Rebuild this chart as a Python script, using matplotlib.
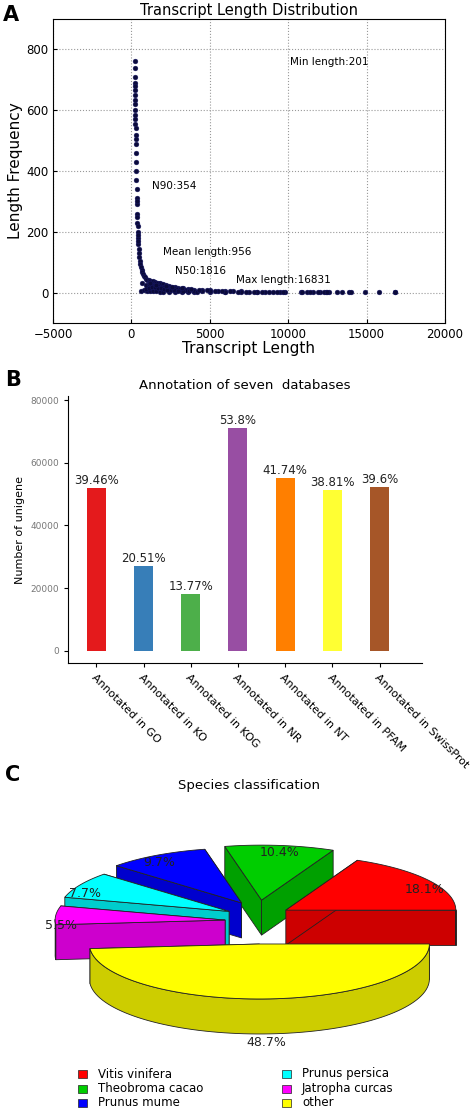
import numpy as np
import matplotlib
matplotlib.use("Agg")
import matplotlib.pyplot as plt
from matplotlib.patches import Polygon, Rectangle

# ---------------- data ----------------
# Panel A: transcript length vs frequency
lengths = [201, 205, 210, 215, 220, 225, 230, 235, 240, 245, 250, 255, 260, 265, 270, 275,
           280, 290, 300, 310, 320, 330, 340, 350, 365, 380, 400, 420, 440, 460, 480, 500,
           530, 560, 600, 650, 700, 750, 800, 850, 900, 1000, 1100, 1200, 1300, 1400, 1500,
           1600, 1700, 1800, 1900, 2000, 2200, 2400, 2600, 2800, 3000, 3300, 3600, 4000,
           4500, 5000, 5500, 6000, 6500, 7000, 7500, 8000, 8500, 9000, 9500, 9800,
           10800, 11200, 11600, 12000, 12400, 12600, 13100, 13400, 13900, 14000, 14900, 15800, 16800, 16831,
           600, 800, 1000, 1200, 1400, 1600, 1800, 2000, 2400, 2800, 3200, 3600, 4000, 5000, 6000,
           1000, 1500, 2000, 2500, 3000, 3500, 4000, 4500, 5000, 6000, 7000, 8000,
           700, 900, 1100, 1300, 1500, 1700, 1900, 2100, 2300, 2500, 2700, 2900, 3100, 3400, 3700,
           900, 1100, 1300, 1500, 1700, 1900, 2100, 2300, 2500, 2700, 3000, 3300, 3700, 4200,
           1200, 1600, 2200, 2600, 3200, 3800, 4300, 4800, 5300, 5800, 6300, 6800, 7300, 7800,
           8300, 8800, 9300, 9700, 10900, 11400, 11900, 12300, 12500, 330, 360, 390, 420, 450]
freqs = [762, 740, 710, 690, 680, 665, 650, 635, 620, 600, 585, 570, 555, 540, 520, 505,
         490, 460, 430, 400, 370, 340, 310, 290, 260, 230, 200, 180, 160, 145, 130, 118,
         105, 95, 85, 75, 68, 60, 55, 50, 45, 42, 40, 38, 36, 38, 35,
         33, 32, 30, 28, 27, 25, 22, 20, 18, 16, 14, 12, 10,
         8, 7, 6, 5, 4, 4, 3, 3, 3, 2, 2, 2,
         1, 1, 1, 1, 1, 1, 1, 1, 1, 1, 1, 1, 1, 1,
         5, 8, 6, 4, 5, 4, 3, 3, 2, 2, 2, 1, 1, 1, 1,
         20, 18, 15, 12, 10, 8, 6, 5, 4, 3, 2, 1,
         30, 25, 28, 26, 24, 22, 20, 18, 17, 15, 14, 12, 11, 9, 8,
         12, 15, 18, 20, 16, 14, 12, 10, 9, 8, 6, 5, 4, 3,
         30, 26, 22, 19, 15, 12, 9, 7, 6, 5, 4, 3, 3, 2,
         2, 2, 1, 1, 2, 2, 1, 1, 1, 300, 250, 220, 190, 170]
stat_labels = ["Min length:201", "N90:354", "Mean length:956", "N50:1816", "Max length:16831"]
stat_pos_x = [10100, 1300, 2000, 2800, 6700]
stat_pos_y = [760, 350, 135, 70, 40]

# Panel B
databases = ["Annotated in GO", "Annotated in KO", "Annotated in KOG", "Annotated in NR",
             "Annotated in NT", "Annotated in PFAM", "Annotated in SwissProt"]
unigenes = [52000, 27000, 18200, 71000, 55000, 51200, 52200]
bar_pct = ["39.46%", "20.51%", "13.77%", "53.8%", "41.74%", "38.81%", "39.6%"]
bar_colors = ["#e41a1c", "#377eb8", "#4daf4a", "#984ea3", "#ff7f00", "#ffff33", "#a65628"]

# Panel C
species = ["Vitis vinifera", "Theobroma cacao", "Prunus mume", "Prunus persica",
           "Jatropha curcas", "other"]
species_pct = [18.1, 10.4, 9.7, 7.7, 5.5, 48.7]
species_colors = ["#ff0000", "#00cd00", "#0000ff", "#00ffff", "#ff00ff", "#ffff00"]
side_colors = ["#cd0000", "#00a000", "#0000cd", "#00cdcd", "#cd00cd", "#cdcd00"]

# ---------------- figure ----------------
fig = plt.figure(figsize=(4.74, 11.09), dpi=100)
W, H = 474, 1109

def ax_rect(l, t, r, b):
    return [l / W, 1 - b / H, (r - l) / W, (b - t) / H]

# ---- Panel A ----
axA = fig.add_axes(ax_rect(53, 19, 445, 323))
axA.scatter(lengths, freqs, s=12, color="#0a0a3a", edgecolors="#1a1a6a", linewidths=0.3, zorder=3)
axA.set_xlim(-5000, 20000)
axA.set_ylim(-100, 900)
axA.set_xticks([-5000, 0, 5000, 10000, 15000, 20000])
axA.set_yticks([0, 200, 400, 600, 800])
axA.grid(True, linestyle=":", color="#999999", linewidth=0.8)
axA.tick_params(labelsize=8.5, direction="in", length=3)
axA.set_title("Transcript Length Distribution", fontsize=10.5, pad=3)
axA.set_xlabel("Transcript Length", fontsize=11, labelpad=0)
axA.set_ylabel("Length Frequency", fontsize=11, labelpad=2)
for t, x, y in zip(stat_labels, stat_pos_x, stat_pos_y):
    axA.text(x, y, t, fontsize=7.5, va="center")
fig.text(3 / W, 1 - 15 / H, "A", fontsize=15, fontweight="bold", va="center")

# ---- Panel B ----
axB = fig.add_axes(ax_rect(68, 396, 422, 663))
xpos = np.arange(len(databases))
axB.bar(xpos, unigenes, width=0.4, color=bar_colors)
for x, v, p in zip(xpos, unigenes, bar_pct):
    axB.text(x, v + 300, p, ha="center", va="bottom", fontsize=8.5, color="#222222")
axB.set_xlim(-0.6, 6.9)
axB.set_ylim(-3900, 81300)
axB.set_yticks([0, 20000, 40000, 60000, 80000])
axB.set_xticks(xpos)
axB.set_xticklabels(databases, rotation=-45, ha="left", va="top", rotation_mode="anchor", fontsize=8)
axB.tick_params(axis="y", labelsize=6.5, labelcolor="#777777", length=3)
axB.tick_params(axis="x", length=3, pad=4)
for s in ["top", "right"]:
    axB.spines[s].set_visible(False)
axB.set_ylabel("Number of unigene", fontsize=8)
axB.set_title("Annotation of seven  databases", fontsize=9.5, pad=5)
fig.text(5 / W, 1 - 380 / H, "B", fontsize=15, fontweight="bold", va="center")

# ---- Panel C (3D-looking pie) ----
axC = fig.add_axes([0, 0, 1, 1])
axC.set_xlim(0, W)
axC.set_ylim(H, 0)
axC.axis("off")
cx, cy, rx, ry, depth, ex, ey = 258, 922, 170, 55, 35, 33, 22
frac = np.array(species_pct) / sum(species_pct)
starts = np.concatenate([[0], np.cumsum(frac)[:-1]]) * 2 * np.pi
ends = np.cumsum(frac) * 2 * np.pi
mids = (starts + ends) / 2
order = np.argsort(-np.sin(mids))  # back first
for i in order:
    a0, a1, m = starts[i], ends[i], mids[i]
    ox = cx + ex * np.cos(m)
    oy = cy - ey * np.sin(m)
    t = np.linspace(a0, a1, 80)
    ax_ = ox + rx * np.cos(t)
    ay_ = oy - ry * np.sin(t)
    kw = dict(edgecolor="#222222", linewidth=0.6)
    for a in (a0, a1):
        px, py = ox + rx * np.cos(a), oy - ry * np.sin(a)
        axC.add_patch(Polygon([(ox, oy), (px, py), (px, py + depth), (ox, oy + depth)],
                              closed=True, facecolor=side_colors[i], **kw))
    front = np.sin(t) <= 0.02
    if front.any():
        fx, fy = ax_[front], ay_[front]
        pts = list(zip(fx, fy)) + list(zip(fx[::-1], fy[::-1] + depth))
        axC.add_patch(Polygon(pts, closed=True, facecolor=side_colors[i], **kw))
    top = [(ox, oy)] + list(zip(ax_, ay_))
    axC.add_patch(Polygon(top, closed=True, facecolor=species_colors[i], **kw))
    lx = ox + rx * 0.97 * np.cos(m)
    ly = oy - ry * 1.05 * np.sin(m) + (depth + 6 if np.sin(m) < 0 else 10)
    axC.text(lx, ly, f"{species_pct[i]}%", fontsize=9, ha="center", va="center", color="#222222",
             zorder=5)
axC.text(W / 2 + 12, 785, "Species classification", fontsize=9.5, ha="center", va="center")
fig.text(5 / W, 1 - 775 / H, "C", fontsize=15, fontweight="bold", va="center")
lx0 = [78, 282]
for k, name in enumerate(species):
    col, row = (0, k) if k < 3 else (1, k - 3)
    x, y = lx0[col], 1074 + row * 14.5
    axC.add_patch(Rectangle((x, y - 4), 9, 8, facecolor=species_colors[k], edgecolor="#222222", linewidth=0.5))
    axC.text(x + 20, y, name, fontsize=8.5, va="center")

fig.savefig("out.png", dpi=100)
